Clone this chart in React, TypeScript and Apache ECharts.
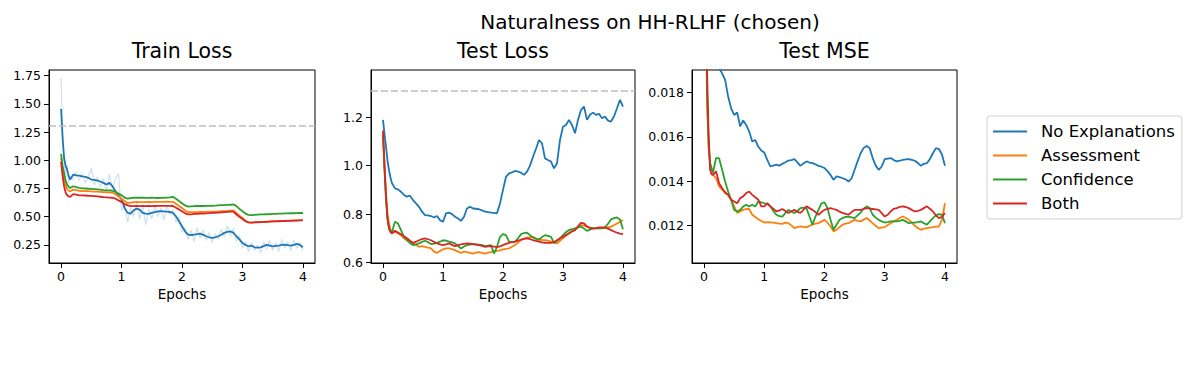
import React, { useEffect, useRef } from "react";
import * as echarts from "echarts";

// ---------- data ----------
const SUPTITLE = "Naturalness on HH-RLHF (chosen)";
const PANEL_TITLES = ["Train Loss", "Test Loss", "Test MSE"];
const SERIES_NAMES = ["No Explanations", "Assessment", "Confidence", "Both"];
const COLORS = ["#1f77b4", "#ff7f0e", "#2ca02c", "#d62728"];
const X_TICKS = [0, 1, 2, 3, 4];
const Y_TICKS_TRAIN = [0.25, 0.5, 0.75, 1.0, 1.25, 1.5, 1.75];
const Y_TICKS_TEST = [0.6, 0.8, 1.0, 1.2];
const Y_TICKS_MSE = [0.012, 0.014, 0.016, 0.018];
const THRESHOLD = 1.31;

const EPOCHS = [
  0, 0.025, 0.05, 0.075, 0.1, 0.125, 0.15,
  0.2, 0.25, 0.3, 0.35, 0.4, 0.45, 0.5, 0.55, 0.6, 0.65,
  0.7, 0.75, 0.8, 0.85, 0.9, 0.95, 1.0, 1.05, 1.1, 1.15,
  1.2, 1.25, 1.3, 1.35, 1.4, 1.45, 1.5, 1.55, 1.6, 1.65,
  1.7, 1.75, 1.8, 1.85, 1.9, 1.95, 2.0, 2.05, 2.1, 2.15,
  2.2, 2.25, 2.3, 2.35, 2.4, 2.45, 2.5, 2.55, 2.6, 2.65,
  2.7, 2.75, 2.8, 2.85, 2.9, 2.95, 3.0, 3.05, 3.1, 3.15,
  3.2, 3.25, 3.3, 3.35, 3.4, 3.45, 3.5, 3.55, 3.6, 3.65,
  3.7, 3.75, 3.8, 3.85, 3.9, 3.95, 4.0,
];

const TRAIN_NO_RAW = [
  1.73, 1.25, 0.98, 0.88, 0.95, 0.8, 0.86,
  0.83, 0.9, 0.82, 0.88, 0.8, 0.86, 0.93, 0.78, 0.85, 0.76,
  0.84, 0.72, 0.88, 0.75, 0.84, 0.88, 0.55, 0.62, 0.45, 0.58,
  0.5, 0.62, 0.48, 0.6, 0.43, 0.57, 0.48, 0.6, 0.5, 0.58,
  0.47, 0.6, 0.52, 0.56, 0.45, 0.5, 0.36, 0.4, 0.3, 0.38,
  0.28, 0.4, 0.31, 0.38, 0.29, 0.36, 0.27, 0.35, 0.3, 0.39,
  0.32, 0.42, 0.33, 0.4, 0.28, 0.33, 0.22, 0.28, 0.19, 0.27,
  0.2, 0.25, 0.18, 0.28, 0.21, 0.29, 0.2, 0.27, 0.19, 0.3,
  0.22, 0.28, 0.2, 0.29, 0.22, 0.27, 0.2,
];
const TRAIN_NO = [
  1.455, 1.2, 1.02, 0.95, 0.917, 0.86, 0.829,
  0.873, 0.866, 0.864, 0.858, 0.853, 0.845, 0.829, 0.826, 0.82, 0.812,
  0.8, 0.785, 0.8, 0.77, 0.725, 0.69, 0.652, 0.578, 0.534, 0.528,
  0.557, 0.572, 0.563, 0.534, 0.528, 0.525, 0.534, 0.54, 0.548, 0.55,
  0.548, 0.545, 0.542, 0.534, 0.504, 0.46, 0.415, 0.371, 0.342, 0.338,
  0.342, 0.345, 0.35, 0.34, 0.327, 0.318, 0.312, 0.318, 0.327, 0.34,
  0.357, 0.365, 0.371, 0.357, 0.327, 0.3, 0.268, 0.25, 0.238, 0.244,
  0.229, 0.226, 0.229, 0.24, 0.25, 0.245, 0.238, 0.242, 0.244, 0.25,
  0.253, 0.248, 0.244, 0.25, 0.259, 0.25, 0.229,
];
const TRAIN_ASSESS = [
  1.02, 0.92, 0.84, 0.78, 0.746, 0.73, 0.725,
  0.74, 0.735, 0.73, 0.728, 0.727, 0.726, 0.725, 0.723, 0.722, 0.72,
  0.718, 0.716, 0.715, 0.712, 0.7, 0.68, 0.66, 0.64, 0.62, 0.625,
  0.63, 0.631, 0.63, 0.629, 0.63, 0.631, 0.63, 0.631, 0.632, 0.631,
  0.632, 0.633, 0.632, 0.632, 0.615, 0.595, 0.578, 0.555, 0.54, 0.54,
  0.54, 0.541, 0.542, 0.542, 0.543, 0.544, 0.545, 0.546, 0.547, 0.549,
  0.55, 0.551, 0.553, 0.555, 0.534, 0.51, 0.49, 0.465, 0.45, 0.448,
  0.45, 0.452, 0.454, 0.455, 0.457, 0.458, 0.46, 0.461, 0.462, 0.463,
  0.464, 0.465, 0.466, 0.467, 0.468, 0.469, 0.47,
];
const TRAIN_CONF = [
  1.056, 0.95, 0.888, 0.82, 0.785, 0.765, 0.755,
  0.77, 0.762, 0.755, 0.752, 0.75, 0.748, 0.746, 0.744, 0.742, 0.74,
  0.735, 0.733, 0.733, 0.73, 0.72, 0.705, 0.69, 0.67, 0.66, 0.665,
  0.67, 0.668, 0.668, 0.668, 0.667, 0.667, 0.668, 0.667, 0.666, 0.667,
  0.668, 0.67, 0.672, 0.676, 0.66, 0.64, 0.62, 0.6, 0.59, 0.592,
  0.594, 0.595, 0.596, 0.595, 0.596, 0.597, 0.597, 0.598, 0.6, 0.602,
  0.603, 0.605, 0.606, 0.61, 0.594, 0.57, 0.548, 0.528, 0.516, 0.514,
  0.516, 0.518, 0.52, 0.521, 0.522, 0.523, 0.525, 0.526, 0.527, 0.528,
  0.529, 0.53, 0.531, 0.531, 0.532, 0.533, 0.533,
];
const TRAIN_BOTH = [
  0.985, 0.86, 0.77, 0.715, 0.69, 0.68, 0.676,
  0.7, 0.695, 0.69, 0.689, 0.688, 0.686, 0.685, 0.683, 0.68, 0.677,
  0.674, 0.672, 0.67, 0.668, 0.66, 0.645, 0.63, 0.612, 0.6, 0.595,
  0.594, 0.595, 0.594, 0.595, 0.594, 0.595, 0.594, 0.595, 0.596, 0.596,
  0.596, 0.597, 0.597, 0.595, 0.58, 0.565, 0.548, 0.53, 0.52, 0.521,
  0.525, 0.526, 0.527, 0.528, 0.529, 0.531, 0.534, 0.535, 0.537, 0.539,
  0.541, 0.543, 0.545, 0.545, 0.52, 0.5, 0.48, 0.46, 0.45, 0.447,
  0.45, 0.451, 0.452, 0.453, 0.455, 0.457, 0.458, 0.459, 0.46, 0.461,
  0.462, 0.463, 0.464, 0.465, 0.466, 0.467, 0.468,
];

const TEST_NO = [
  1.189, 1.13, 1.079, 1.02, 0.982, 0.95, 0.927,
  0.906, 0.902, 0.892, 0.879, 0.872, 0.876, 0.858, 0.844, 0.83, 0.81,
  0.796, 0.795, 0.792, 0.786, 0.792, 0.775, 0.768, 0.803, 0.806, 0.8,
  0.789, 0.782, 0.772, 0.789, 0.823, 0.83, 0.823, 0.822, 0.82, 0.815,
  0.81, 0.808, 0.806, 0.805, 0.803, 0.844, 0.9, 0.954, 0.968, 0.972,
  0.978, 0.975, 0.971, 0.962, 0.975, 1.0, 1.037, 1.07, 1.106, 1.092,
  1.03, 1.023, 1.017, 0.989, 1.01, 1.106, 1.161, 1.168, 1.189, 1.168,
  1.134, 1.189, 1.23, 1.244, 1.189, 1.21, 1.219, 1.21, 1.214, 1.196,
  1.203, 1.186, 1.182, 1.203, 1.237, 1.272, 1.244,
];
const TEST_ASSESS = [
  1.13, 1.0, 0.886, 0.8, 0.761, 0.735, 0.727,
  0.727, 0.72, 0.713, 0.7, 0.692, 0.688, 0.681, 0.672, 0.665, 0.668,
  0.665, 0.662, 0.658, 0.645, 0.64, 0.648, 0.654, 0.658, 0.658, 0.655,
  0.651, 0.645, 0.64, 0.645, 0.643, 0.64, 0.637, 0.641, 0.643, 0.64,
  0.637, 0.641, 0.643, 0.646, 0.648, 0.65, 0.654, 0.656, 0.658, 0.665,
  0.672, 0.682, 0.692, 0.698, 0.703, 0.705, 0.706, 0.7, 0.695, 0.693,
  0.692, 0.69, 0.686, 0.682, 0.679, 0.69, 0.7, 0.712, 0.723, 0.73,
  0.734, 0.745, 0.754, 0.752, 0.748, 0.744, 0.741, 0.741, 0.741, 0.741,
  0.742, 0.745, 0.748, 0.754, 0.761, 0.768, 0.775,
];
const TEST_CONF = [
  1.127, 0.98, 0.858, 0.78, 0.741, 0.73, 0.727,
  0.768, 0.761, 0.734, 0.706, 0.692, 0.68, 0.672, 0.675, 0.679, 0.685,
  0.69, 0.684, 0.676, 0.678, 0.681, 0.686, 0.692, 0.69, 0.686, 0.683,
  0.679, 0.668, 0.658, 0.666, 0.672, 0.674, 0.676, 0.675, 0.674, 0.672,
  0.668, 0.67, 0.672, 0.637, 0.665, 0.706, 0.717, 0.713, 0.686, 0.684,
  0.686, 0.7, 0.717, 0.722, 0.723, 0.713, 0.703, 0.698, 0.695, 0.705,
  0.713, 0.71, 0.706, 0.681, 0.69, 0.7, 0.713, 0.725, 0.734, 0.738,
  0.741, 0.745, 0.748, 0.74, 0.731, 0.736, 0.741, 0.741, 0.741, 0.742,
  0.745, 0.76, 0.778, 0.783, 0.786, 0.778, 0.737,
];
const TEST_BOTH = [
  1.145, 1.0, 0.872, 0.78, 0.741, 0.725, 0.72,
  0.731, 0.724, 0.717, 0.708, 0.7, 0.69, 0.681, 0.686, 0.692, 0.697,
  0.7, 0.696, 0.692, 0.685, 0.679, 0.675, 0.672, 0.675, 0.679, 0.673,
  0.668, 0.672, 0.675, 0.677, 0.679, 0.678, 0.676, 0.674, 0.672, 0.669,
  0.665, 0.667, 0.668, 0.666, 0.664, 0.667, 0.672, 0.677, 0.681, 0.684,
  0.686, 0.69, 0.695, 0.698, 0.7, 0.697, 0.692, 0.689, 0.686, 0.683,
  0.681, 0.681, 0.681, 0.684, 0.692, 0.7, 0.706, 0.713, 0.72, 0.728,
  0.734, 0.75, 0.764, 0.762, 0.748, 0.743, 0.741, 0.742, 0.745, 0.745,
  0.745, 0.74, 0.734, 0.728, 0.723, 0.719, 0.717,
];

const MSE_NO = [
  0.04, 0.034, 0.03, 0.027, 0.025, 0.0235, 0.022,
  0.0202, 0.0191, 0.01887, 0.01857, 0.01782, 0.01729, 0.01699, 0.0171, 0.01647, 0.01674,
  0.01654, 0.01624, 0.01579, 0.01586, 0.01556, 0.01538, 0.01529, 0.01496, 0.01466, 0.0147,
  0.01474, 0.0147, 0.01478, 0.01485, 0.01493, 0.01495, 0.01499, 0.01485, 0.01469, 0.0148,
  0.01489, 0.01484, 0.01481, 0.01476, 0.01469, 0.01465, 0.01459, 0.01445, 0.01428, 0.01406,
  0.01421, 0.01418, 0.01413, 0.01408, 0.01398, 0.01413, 0.01451, 0.0149, 0.01526, 0.0155,
  0.01559, 0.01549, 0.01504, 0.0147, 0.01451, 0.01466, 0.01499, 0.01502, 0.01504, 0.01495,
  0.01489, 0.01492, 0.01496, 0.01498, 0.01499, 0.01496, 0.01492, 0.01482, 0.01469, 0.01478,
  0.01481, 0.015, 0.01526, 0.01549, 0.01545, 0.0152, 0.01469,
];
const MSE_ASSESS = [
  0.035, 0.024, 0.0175, 0.0155, 0.0148, 0.0146, 0.01428,
  0.01413, 0.01376, 0.01361, 0.01353, 0.01338, 0.01316, 0.01286, 0.01256, 0.01263, 0.0127,
  0.01274, 0.01274, 0.01248, 0.01238, 0.01228, 0.0122, 0.01213, 0.01215, 0.01214, 0.01212,
  0.0121, 0.01208, 0.01207, 0.01212, 0.0121, 0.012, 0.01188, 0.01192, 0.01195, 0.01193,
  0.01191, 0.01198, 0.01203, 0.01208, 0.0121, 0.01218, 0.01225, 0.01212, 0.01195, 0.01173,
  0.0118, 0.01192, 0.01203, 0.01208, 0.0121, 0.01218, 0.01225, 0.0122, 0.01218, 0.01226,
  0.01233, 0.01222, 0.0121, 0.01198, 0.01188, 0.0119, 0.01192, 0.01202, 0.0121, 0.01218,
  0.01225, 0.01233, 0.0124, 0.01233, 0.01225, 0.01212, 0.01198, 0.01188, 0.0118, 0.01185,
  0.01188, 0.0119, 0.01192, 0.01194, 0.01195, 0.01225, 0.013,
];
const MSE_CONF = [
  0.035, 0.025, 0.018, 0.0158, 0.01481, 0.01455, 0.0144,
  0.01505, 0.01503, 0.01451, 0.01398, 0.01353, 0.01316, 0.0127, 0.01263, 0.0127, 0.01285,
  0.01293, 0.01285, 0.01293, 0.01285, 0.01308, 0.01304, 0.013, 0.01295, 0.01286, 0.01265,
  0.01248, 0.01242, 0.0124, 0.01255, 0.0127, 0.01262, 0.01256, 0.01265, 0.01278, 0.0128,
  0.01278, 0.0124, 0.01203, 0.0124, 0.0127, 0.013, 0.01304, 0.01278, 0.01225, 0.0118,
  0.01203, 0.01225, 0.01233, 0.01238, 0.0124, 0.01236, 0.01233, 0.01245, 0.01258, 0.01275,
  0.01286, 0.01278, 0.01248, 0.01235, 0.01225, 0.01218, 0.01213, 0.01215, 0.01218, 0.01218,
  0.01218, 0.0122, 0.01225, 0.01218, 0.0121, 0.01212, 0.01213, 0.01215, 0.01218, 0.0121,
  0.01203, 0.01218, 0.01233, 0.01245, 0.01251, 0.01248, 0.0121,
];
const MSE_BOTH = [
  0.035, 0.026, 0.019, 0.0162, 0.01451, 0.0143, 0.01428,
  0.01444, 0.0139, 0.01368, 0.01346, 0.01338, 0.01316, 0.01308, 0.013, 0.01323, 0.01331,
  0.01346, 0.01353, 0.01338, 0.01327, 0.01316, 0.01286, 0.01286, 0.013, 0.01286, 0.01275,
  0.01263, 0.01268, 0.01274, 0.01265, 0.01256, 0.01264, 0.0127, 0.01262, 0.01256, 0.0127,
  0.01286, 0.01278, 0.0127, 0.0126, 0.01248, 0.0126, 0.0127, 0.01275, 0.01278, 0.01274,
  0.0127, 0.01262, 0.01256, 0.01252, 0.01248, 0.0126, 0.0127, 0.0127, 0.0127, 0.01274,
  0.01278, 0.01276, 0.01274, 0.01272, 0.0127, 0.01255, 0.0124, 0.01248, 0.01263, 0.01275,
  0.01278, 0.01284, 0.01286, 0.01283, 0.01278, 0.0127, 0.01263, 0.01266, 0.0127, 0.01278,
  0.01286, 0.01275, 0.01263, 0.01245, 0.01233, 0.01238, 0.01256,
];

// ---------- layout / styling ----------
const FONT = "DejaVu Sans";
const GRIDS = [
  { left: 49, top: 70, width: 266, height: 193 },
  { left: 371, top: 70, width: 264, height: 193 },
  { left: 692, top: 70, width: 265, height: 193 },
];
const Y_RANGES = [
  { min: 0.09, max: 1.8, ticks: Y_TICKS_TRAIN, digits: 2 },
  { min: 0.598, max: 1.395, ticks: Y_TICKS_TEST, digits: 1 },
  { min: 0.0103, max: 0.01902, ticks: Y_TICKS_MSE, digits: 3 },
];
const PANEL_DATA = [
  [TRAIN_NO, TRAIN_ASSESS, TRAIN_CONF, TRAIN_BOTH],
  [TEST_NO, TEST_ASSESS, TEST_CONF, TEST_BOTH],
  [MSE_NO, MSE_ASSESS, MSE_CONF, MSE_BOTH],
];

const pairs = (ys: number[]) => EPOCHS.map((x, i) => [x, ys[i]]);

function buildOption() {
  const xAxis: any[] = [];
  const yAxis: any[] = [];
  const series: any[] = [];
  const graphic: any[] = [
    {
      type: "text",
      x: 650,
      y: 22,
      style: {
        text: SUPTITLE,
        font: `20px "${FONT}"`,
        fill: "#000",
        textAlign: "center",
        textVerticalAlign: "middle",
      },
    },
  ];

  GRIDS.forEach((g, i) => {
    graphic.push({
      type: "text",
      x: g.left + g.width / 2,
      y: 51,
      style: {
        text: PANEL_TITLES[i],
        font: `20.5px "${FONT}"`,
        fill: "#000",
        textAlign: "center",
        textVerticalAlign: "middle",
      },
    });
    xAxis.push({
      gridIndex: i,
      type: "value",
      min: -0.2,
      max: 4.2,
      axisLine: { show: true, onZero: false, lineStyle: { color: "#000", width: 1 } },
      axisTick: { show: true, length: 5, customValues: X_TICKS, lineStyle: { color: "#000", width: 1 } },
      axisLabel: {
        customValues: X_TICKS,
        margin: 7,
        fontSize: 12.5,
        color: "#000",
        fontFamily: FONT,
        formatter: (v: number) => String(v),
      },
      splitLine: { show: false },
      name: "Epochs",
      nameLocation: "middle",
      nameGap: 24,
      nameTextStyle: { fontSize: 13.5, color: "#000", fontFamily: FONT },
    });
    const yr = Y_RANGES[i];
    yAxis.push({
      gridIndex: i,
      type: "value",
      min: yr.min,
      max: yr.max,
      axisLine: { show: true, onZero: false, lineStyle: { color: "#000", width: 1 } },
      axisTick: { show: true, length: 5, customValues: yr.ticks, lineStyle: { color: "#000", width: 1 } },
      axisLabel: {
        customValues: yr.ticks,
        margin: 8,
        fontSize: 12.5,
        color: "#000",
        fontFamily: FONT,
        formatter: (v: number) => v.toFixed(yr.digits),
      },
      splitLine: { show: false },
    });

    if (i === 0) {
      series.push({
        name: "No Explanations (raw)",
        type: "line",
        xAxisIndex: i,
        yAxisIndex: i,
        data: pairs(TRAIN_NO_RAW),
        showSymbol: false,
        symbol: "none",
        lineStyle: { width: 1.2, color: COLORS[0], opacity: 0.22 },
        itemStyle: { color: COLORS[0] },
        silent: true,
        z: 1,
      });
    }

    PANEL_DATA[i].forEach((ys, k) => {
      const s: any = {
        name: SERIES_NAMES[k],
        type: "line",
        xAxisIndex: i,
        yAxisIndex: i,
        data: pairs(ys),
        showSymbol: false,
        symbol: "none",
        clip: true,
        lineStyle: { width: 1.8, color: COLORS[k] },
        itemStyle: { color: COLORS[k] },
        z: 2 + k,
      };
      if (k === 0 && i < 2) {
        s.markLine = {
          silent: true,
          symbol: ["none", "none"],
          label: { show: false },
          lineStyle: { color: "#bdbdbd", type: [7, 3], width: 1.5 },
          data: [{ yAxis: THRESHOLD }],
          animation: false,
        };
      }
      series.push(s);
    });
  });

  return {
    animation: false,
    backgroundColor: "#fff",
    textStyle: { fontFamily: FONT },
    grid: GRIDS.map((g) => ({
      ...g,
      show: true,
      borderColor: "#000",
      borderWidth: 1,
      backgroundColor: "transparent",
    })),
    xAxis,
    yAxis,
    legend: {
      data: SERIES_NAMES,
      orient: "vertical",
      left: 987,
      top: 116,
      padding: [7, 7, 7, 6],
      itemWidth: 34,
      itemHeight: 2,
      itemGap: 7,
      icon: "rect",
      borderColor: "#d0d0d0",
      borderWidth: 1,
      borderRadius: 3,
      backgroundColor: "#fff",
      selectedMode: false,
      textStyle: {
        fontSize: 16.5,
        color: "#000",
        fontFamily: FONT,
        lineHeight: 16,
        padding: [0, 0, 0, 9],
      },
    },
    graphic,
    series,
  };
}

export default function App() {
  const ref = useRef<HTMLDivElement>(null);
  useEffect(() => {
    if (!ref.current) return;
    const chart = echarts.init(ref.current, null, { renderer: "svg" });
    chart.setOption(buildOption() as any);
    return () => chart.dispose();
  }, []);
  return (
    <div
      ref={ref}
      style={{ position: "fixed", left: 0, top: 0, width: 1199, height: 387 }}
    />
  );
}
